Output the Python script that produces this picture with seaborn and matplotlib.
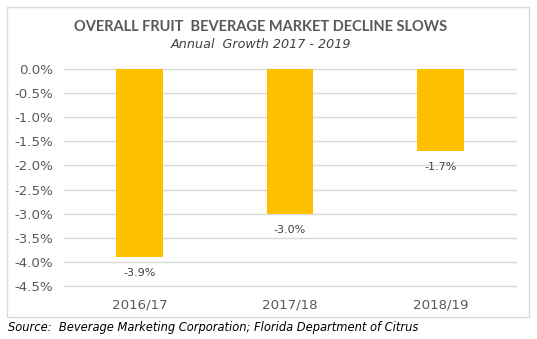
import matplotlib
matplotlib.use("Agg")
import matplotlib.pyplot as plt
import seaborn as sns
import pandas as pd
from matplotlib.patches import Rectangle
from matplotlib.ticker import FuncFormatter

categories = ["2016/17", "2017/18", "2018/19"]
growth = [-3.9, -3.0, -1.7]
yticks = [0.0, -0.5, -1.0, -1.5, -2.0, -2.5, -3.0, -3.5, -4.0, -4.5]

sns.set_theme(style="white")
plt.rcParams['font.family'] = ['DejaVu Sans']

df = pd.DataFrame({"period": categories, "growth": growth})

fig = plt.figure(figsize=(5.37, 3.39), dpi=100)
W, H = 537, 339
ax = fig.add_axes([64 / W, 1 - 286 / H, (516 - 64) / W, (286 - 69) / H])

sns.barplot(data=df, x="period", y="growth", color="#FFC000", width=0.31,
            saturation=1, linewidth=0, ax=ax, zorder=3)

ax.set_ylim(-4.5, 0)
ax.set_yticks(yticks)
ax.yaxis.set_major_formatter(FuncFormatter(lambda v, p: f"{v:.1f}%"))
ax.grid(axis="y", color="#D9D9D9", linewidth=1, zorder=0)
for gl in ax.yaxis.get_gridlines():
    gl.set_clip_on(False)
ax.set_axisbelow(True)
for s in ax.spines.values():
    s.set_visible(False)
ax.set_xlabel("")
ax.set_ylabel("")
ax.tick_params(axis="y", labelsize=9.6, labelcolor="#595959", length=0, pad=8)
ax.tick_params(axis="x", labelsize=9.6, labelcolor="#595959", length=0, pad=9)
ax.set_xlim(-0.5, 2.5)

for i, v in enumerate(growth):
    ax.annotate(f"{v:.1f}%", (i, v), xytext=(0, -11.5), textcoords="offset points",
                ha="center", va="center", fontsize=8, color="#404040")

fig.patches.append(Rectangle((7 / W, 1 - 317 / H), (529 - 7) / W, (317 - 7) / H,
                             transform=fig.transFigure, fill=False,
                             edgecolor="#D9D9D9", linewidth=1))

fig.text(261 / W, 1 - 27 / H, "OVERALL FRUIT  BEVERAGE MARKET DECLINE SLOWS",
         ha="center", va="center", fontsize=10.5, fontweight="bold", color="#595959",
         family=["Lato", "DejaVu Sans"])
fig.text(261 / W, 1 - 45 / H, "Annual  Growth 2017 - 2019",
         ha="center", va="center", fontsize=9.2, style="italic", color="#404040")
fig.text(8 / W, 1 - 328 / H, "Source:  Beverage Marketing Corporation; Florida Department of Citrus",
         ha="left", va="center", fontsize=8.3, style="italic", color="#000000")

fig.savefig("out.png", dpi=100)
